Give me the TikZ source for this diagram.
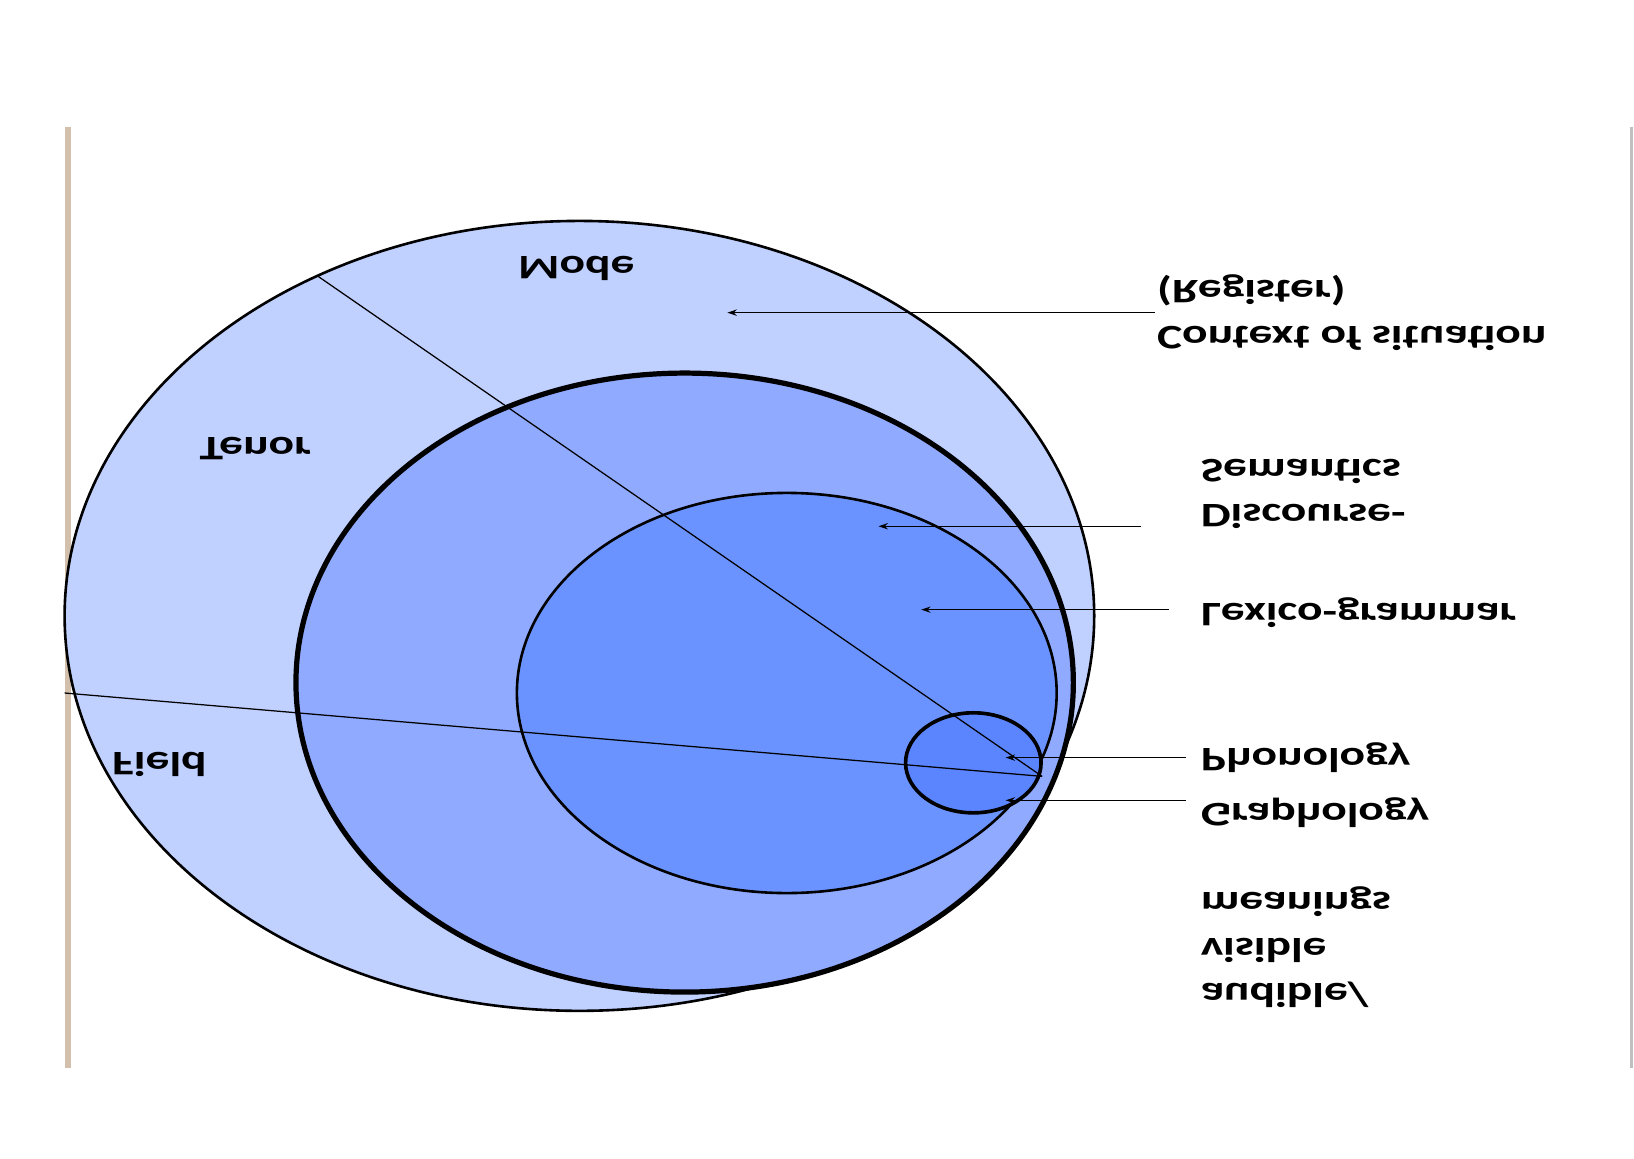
\documentclass[tikz,border=0pt]{standalone}
\usetikzlibrary{arrows.meta}
\usepackage{fontspec}
\setmainfont{Carlito}
\begin{document}
\begin{tikzpicture}[x=1pt,y=-1pt,
 lab/.style={font=\fontsize{33}{44}\selectfont\bfseries,inner sep=0pt,xscale=1.38,yscale=-1,transform shape},
 rlab/.style={lab,anchor=west,align=left},
 arr/.style={-{Stealth[length=9pt,width=6pt]},line width=1.2pt}]
\useasboundingbox (0,0) rectangle (1568,1112);
\fill[white] (0,0) rectangle (1568,1112);
\fill[black!25!brown!40] (62,122) rectangle (68,1025);
\fill[gray!50] (1564,122) rectangle (1567,1025);
\draw[fill={rgb,255:red,192;green,208;blue,255},line width=2.5pt] (556,591) ellipse [x radius=494,y radius=379];
\draw[fill={rgb,255:red,144;green,170;blue,255},line width=5pt] (657,655) ellipse [x radius=373,y radius=297];
\draw[fill={rgb,255:red,107;green,147;blue,255},line width=2.5pt] (755,665) ellipse [x radius=259,y radius=192];
\draw[fill={rgb,255:red,91;green,133;blue,255},line width=3.5pt] (934,732) ellipse [x radius=65,y radius=48];
\coordinate (p1) at (305,265); \coordinate (p2) at (62,665); \coordinate (q) at (1000,745);
\draw[line width=1.2pt] (p1) -- (q); \draw[line width=1.2pt] (p2) -- (q);
\node[lab] (mode) at (553,258) {Mode};
\node[lab] (tenor) at (245,430) {Tenor};
\node[lab] (field) at (153,734) {Field};
\node[rlab] (ctx) at (1110,300) {Context of situation\\(Register)};
\node[rlab] (ds) at (1152,474) {Discourse-\\Semantics};
\node[rlab] (lg) at (1152,588) {Lexico-grammar};
\node[rlab] (ph) at (1152,727) {Phonology};
\node[rlab] (gr) at (1152,780) {Graphology};
\node[rlab] (av) at (1152,909) {audible/\\visible\\meanings};
\coordinate (a1) at (698,300); \coordinate (a2) at (843,505); \coordinate (a3) at (884,585);
\coordinate (a4) at (965,727); \coordinate (a5) at (965,768);
\draw[arr] (1108,300) -- (a1);
\draw[arr] (1095,505) -- (a2);
\draw[arr] (1122,585) -- (a3);
\draw[arr] (1138,727) -- (a4);
\draw[arr] (1138,768) -- (a5);
\end{tikzpicture}
\end{document}
